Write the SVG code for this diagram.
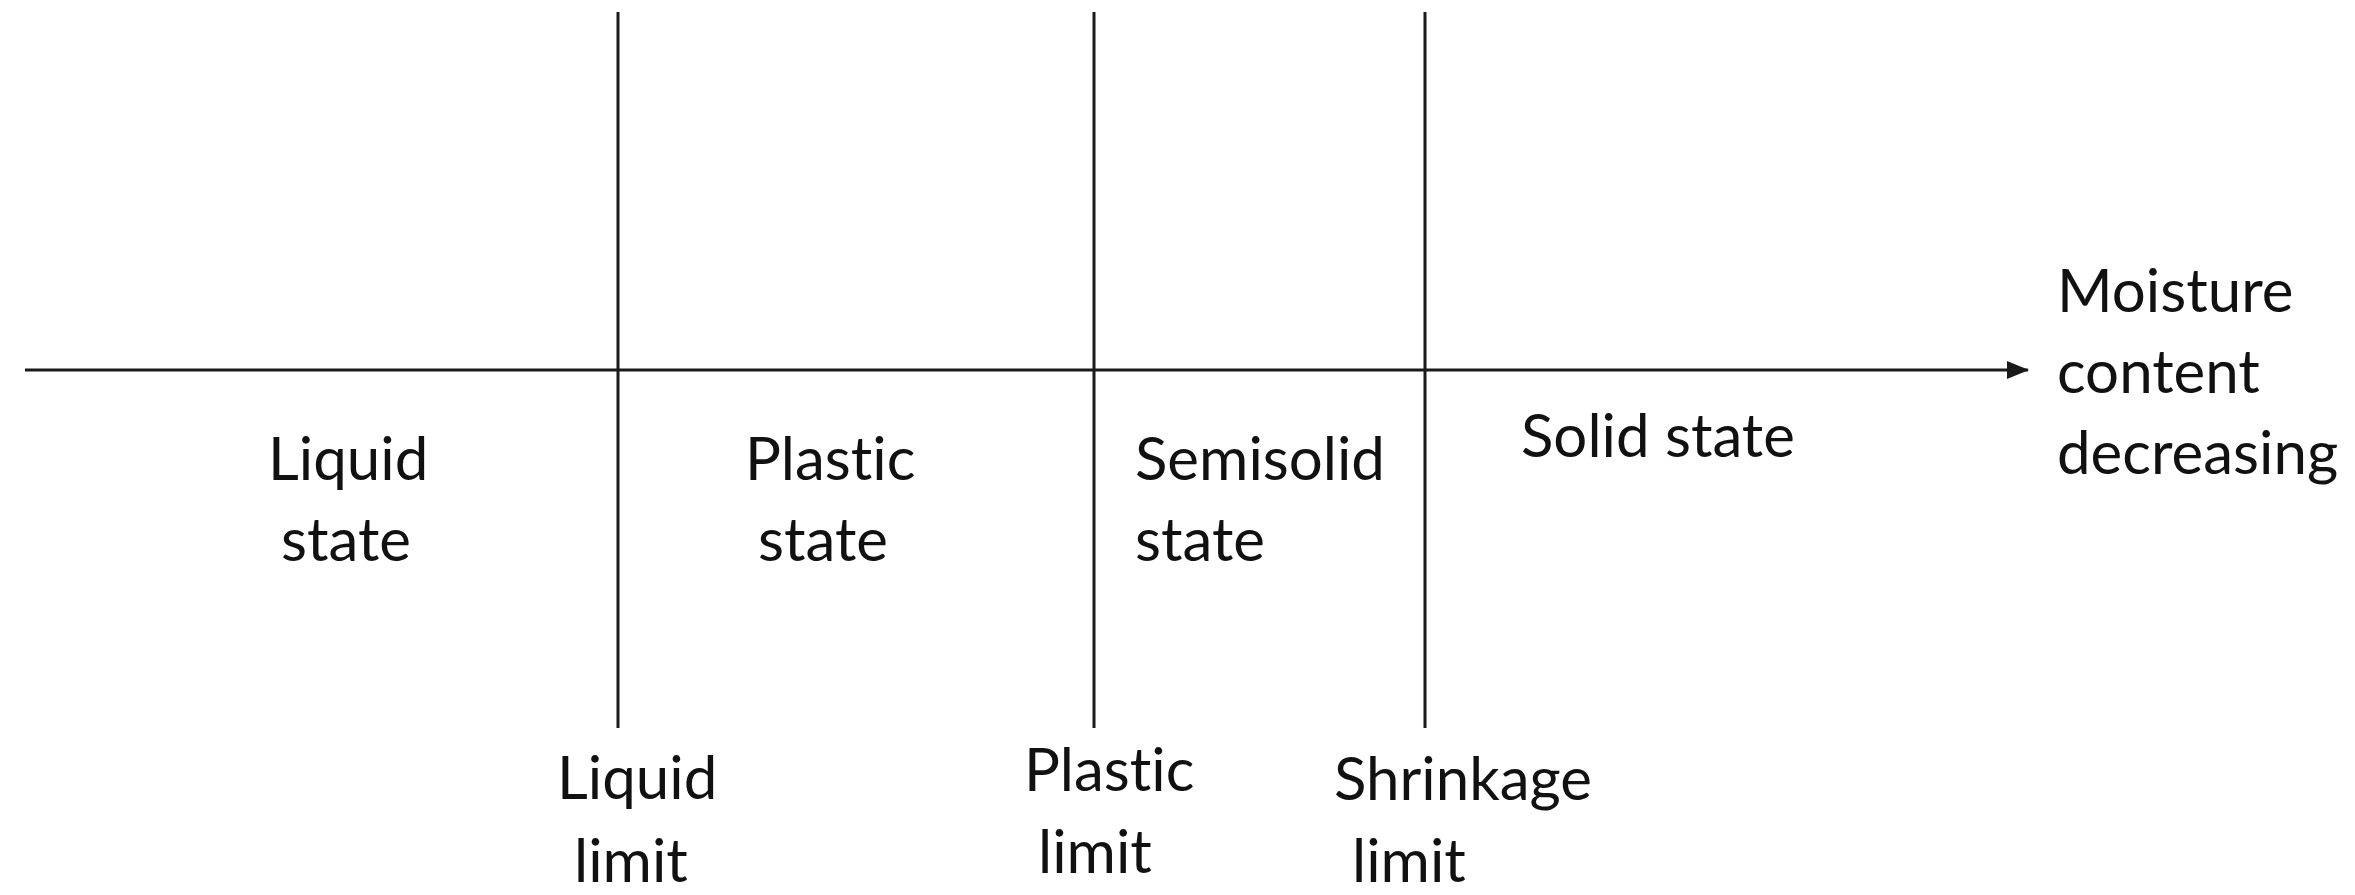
<svg xmlns="http://www.w3.org/2000/svg" width="2355" height="895" viewBox="0 0 2355 895">
<defs>
<style>
.t{font-family:Lato,"Open Sans","Liberation Sans",sans-serif;font-size:60px;fill:#111;font-variant-ligatures:none;font-feature-settings:"liga" 0,"clig" 0}
.ln{stroke:#1a1a1a;stroke-width:3;fill:none}
</style>
<marker id="ah" markerWidth="22" markerHeight="18" refX="21" refY="9" orient="auto" markerUnits="userSpaceOnUse" viewBox="0 0 22 18">
<path d="M0,0 L22,9 L0,18 Z" fill="#1a1a1a"/>
</marker>
</defs>
<rect width="2355" height="895" fill="#fff"/>
<g id="connectors">
<line class="ln" x1="25" y1="370" x2="2028" y2="370" marker-end="url(#ah)"/>
<line class="ln" x1="618" y1="12" x2="618" y2="728"/>
<line class="ln" x1="1094" y1="12" x2="1094" y2="728"/>
<line class="ln" x1="1425" y1="12" x2="1425" y2="728"/>
</g>
<g id="liquid-state"><text class="t" x="268" y="480">Liquid</text><text class="t" x="281" y="561">state</text></g>
<g id="plastic-state"><text class="t" x="745" y="480">Plastic</text><text class="t" x="758" y="561">state</text></g>
<g id="semisolid-state"><text class="t" x="1135" y="480">Semisolid</text><text class="t" x="1135" y="561">state</text></g>
<g id="solid-state"><text class="t" x="1521" y="457">Solid state</text></g>
<g id="moisture"><text class="t" x="2057" y="312">Moisture</text><text class="t" x="2057" y="393">content</text><text class="t" x="2057" y="474">decreasing</text></g>
<g id="liquid-limit"><text class="t" x="557" y="799">Liquid</text><text class="t" x="574" y="882">limit</text></g>
<g id="plastic-limit"><text class="t" x="1024" y="791">Plastic</text><text class="t" x="1038" y="873">limit</text></g>
<g id="shrinkage-limit"><text class="t" x="1334" y="800">Shrinkage</text><text class="t" x="1352" y="882">limit</text></g>
</svg>
